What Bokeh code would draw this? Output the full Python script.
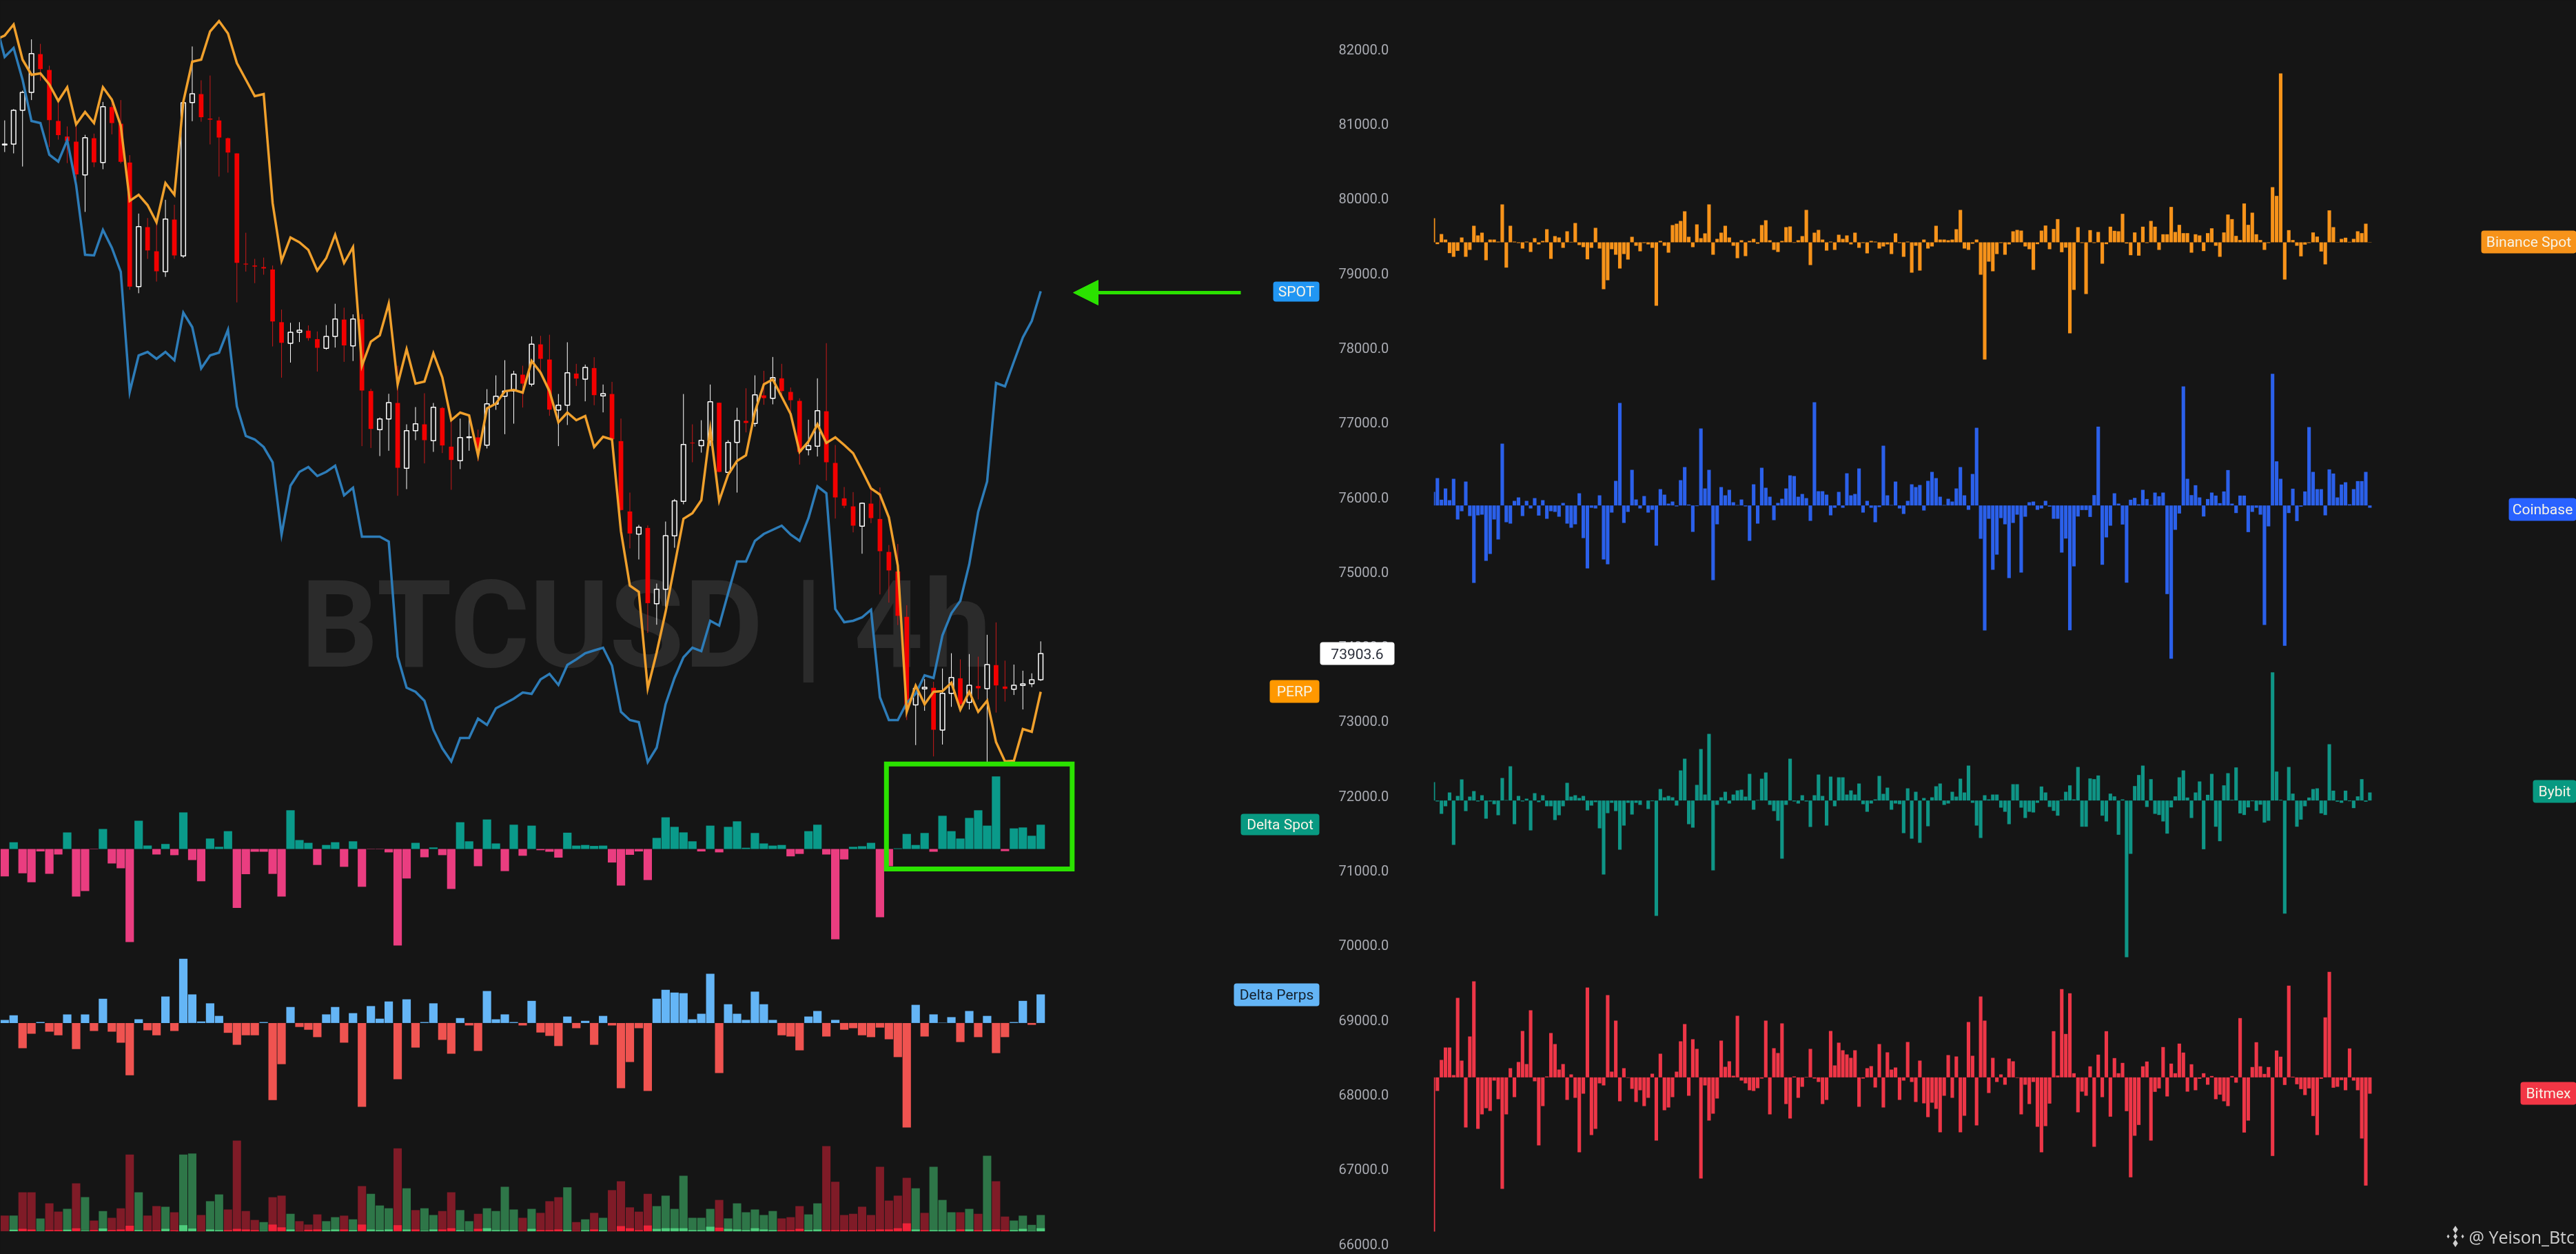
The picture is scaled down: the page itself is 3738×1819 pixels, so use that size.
import numpy as np
from bokeh.plotting import figure
from bokeh.models import Range1d, LinearAxis, FixedTicker, Label, Arrow, NormalHead, NumeralTickFormatter
from bokeh.core.properties import value
from bokeh.embed import file_html
from bokeh.resources import INLINE

# ---------- left pane: 4h candles ----------
candle_open = [80716,80727,81179,81420,81932,81720,81038,80829,80759,80314,80805,80480,81225,80999,80480,78819,79614,79292,79020,79716,79229,81285,81398,81070,81045,80805,80603,79126,79101,79080,79048,78342,78059,78207,78228,78115,77992,78151,78377,78024,
78381,77420,76903,77045,77260,76386,76888,76974,76755,77193,76675,76488,76796,76799,76694,77245,77350,77420,77639,77513,78045,77842,77165,77230,77654,77580,77728,77356,77380,76749,75807,75503,75586,74570,74764,75481,75943,76728,76688,76755,77263,76331,76731,77020,76986,77362,77322,77590,77408,77288,76635,76682,77149,76457,75983,75875,75610,75912,75706,75265,75003,74395,73215,73431,73445,72879,73371,73572,73250,73469,73434,73749,73462,73427,73477,73501,73554]
candle_close = [80727,81179,81420,81939,81731,81049,80847,80769,80321,80812,80483,81229,81010,80490,78819,79621,79303,79024,79723,79236,81282,81402,81087,81056,80815,80614,79137,79115,79087,79062,78352,78066,78207,78235,78129,77999,78151,78384,78031,78384,
77427,76912,77045,77266,76392,76888,76980,76762,77202,76691,76497,76796,76805,76620,77248,77350,77420,77645,77519,78048,77851,77171,77230,77664,77587,77737,77365,77386,76774,75826,75512,75595,74579,74764,75484,75949,76703,76719,76759,77276,76337,76731,77026,76993,77368,77325,77599,77420,77297,76605,76688,77156,76466,75995,75884,75617,75918,75718,75275,75017,74409,73155,73438,73452,72883,73371,73583,73226,73480,73438,73756,73477,73431,73480,73498,73554,73904]
candle_high = [81045,81197,81444,82130,82070,81777,81310,80964,80992,80851,80868,81292,81275,81317,80579,79797,79737,79677,79981,79914,81292,82035,81582,81646,81091,80815,80603,79540,79190,79207,79101,78511,78334,78342,78299,78218,78303,78589,78536,78447,
78451,77451,77066,77383,77759,76974,77205,77390,77260,77205,77113,77051,77082,76903,77445,77630,77833,77691,77759,78153,78159,78174,77380,78073,77784,77774,77873,77507,77543,77051,76060,75626,75620,74841,75672,75974,77380,76974,77029,77507,77266,76762,77196,77457,77630,77691,77876,77784,77467,77322,77036,77590,78061,76697,76134,76066,75928,76128,76128,75357,75371,74551,73438,73561,73526,73703,73908,73826,73897,73862,74155,74321,73809,73756,73674,73639,74067]
candle_low = [80621,80603,80427,81317,81575,80688,80787,80473,80151,79819,80419,80391,80858,80469,78776,78730,79190,78886,78949,79190,79204,81034,81027,80723,80292,80345,78607,79020,78865,78978,78017,77599,77801,78076,78094,77681,77974,78002,77811,77822,
76682,76657,76549,76620,76017,76106,76762,76451,76605,76589,76097,76374,76620,76478,76651,77168,76842,76983,77199,77482,77667,77088,76682,76965,77488,77282,77230,77134,76768,75820,75312,75164,74180,74290,74527,75321,75903,76466,76595,76682,76331,76328,76060,76866,76943,77236,77242,77359,77113,76435,76558,76543,76220,75712,75851,75527,75241,75650,74696,74586,74286,73014,72678,73137,72526,72685,73190,73155,73155,73289,72431,73113,73261,73349,73155,73455,73537]

# cumulative delta overlays (first value is the bar just before the visible window)
perp_cvd = [943,949,965,914,892,894,878,854,874,820,838,822,874,856,818,709,718,703,678,735,718,853,911,914,955,970,952,909,885,861,864,706,622,656,649,638,608,626,660,619,642,
470,505,514,560,443,494,444,447,488,453,391,402,398,340,408,415,433,435,431,477,460,433,388,402,391,397,352,367,363,230,151,142,2,54,113,180,248,256,275,378,274,312,332,340,403,443,450,425,400,345,360,385,358,366,355,343,318,292,283,250,180,-32,6,-21,-3,-2,10,-29,-3,-32,-16,-76,-104,-103,-57,-61,-3]
spot_cvd = [967,918,931,885,825,822,776,766,797,732,631,630,667,641,606,432,485,490,480,490,478,547,526,466,485,489,522,411,368,363,352,330,225,296,316,323,310,316,325,282,293,
222,222,222,215,48,3,-3,-16,-58,-85,-104,-70,-70,-42,-51,-27,-20,-13,-4,-6,15,23,7,36,44,53,57,61,35,-32,-44,-47,-105,-84,-21,17,47,61,56,100,93,140,186,186,216,226,232,238,225,216,249,295,285,117,98,100,105,116,-11,-44,-44,-19,-6,21,17,79,111,129,182,258,302,445,440,476,511,535,578]

# lower left panes
delta_spot = [-89,22,-79,-108,-8,-81,-18,54,-155,-137,-1,65,-47,-63,-303,92,11,-18,16,-20,119,-36,-105,34,7,58,-192,-82,-9,-9,-81,-155,126,29,20,-52,13,22,-58,25,-123,-1,-1,-11,-314,-96,20,-27,5,-20,-130,87,25,-56,96,18,-72,79,-22,76,-4,-9,
-28,53,11,13,10,11,-44,-119,-19,-8,-101,36,103,72,54,25,-8,76,-11,72,90,4,52,18,11,13,-24,-16,58,79,-18,-294,-34,7,9,20,-222,-56,2,49,13,52,-9,108,58,34,101,126,76,236,-7,67,70,43,79]
delta_perps = [10,25,-82,-35,3,-28,-40,28,-85,28,-26,79,-28,-64,-170,12,-24,-40,86,-26,209,93,5,64,23,-32,-71,-40,-40,3,-251,-134,52,-13,-22,-46,28,52,-64,32,-273,55,14,70,-183,77,-80,3,64,-55,-100,16,-8,-91,104,12,28,3,-8,72,-31,-42,
-75,21,-17,7,-71,23,-8,-212,-127,-17,-221,79,108,99,97,12,30,160,-163,61,30,10,102,61,10,-40,-44,-89,21,39,-44,10,-22,-17,-40,-46,-15,-53,-111,-340,59,-44,28,1,19,-62,39,-46,23,-98,-46,3,72,-6,93]
volume = [51,51,127,127,42,91,64,73,156,111,35,66,44,75,250,127,51,82,80,62,250,253,53,98,120,71,295,66,37,30,111,116,57,33,22,55,33,46,51,39,147,122,84,75,270,140,69,75,53,66,127,69,33,57,75,66,145,71,44,73,60,98,
111,143,30,39,60,44,134,163,78,64,122,82,116,73,181,44,44,73,102,42,91,62,71,53,66,42,46,82,55,91,277,161,53,57,80,53,210,100,116,174,140,60,210,102,62,62,73,57,246,163,48,35,51,21,53]
volume_core = [0,5,8,6,1,4,4,5,10,2,4,9,4,6,18,4,3,3,8,3,20,9,1,6,4,4,8,6,4,1,22,13,6,1,5,6,4,6,6,4,22,6,4,6,20,6,6,2,6,6,10,4,1,8,10,4,4,4,1,8,4,4,
6,4,1,4,6,4,1,17,10,4,19,8,10,10,10,4,4,15,12,8,6,4,10,6,4,4,4,8,4,6,4,4,4,4,4,4,6,6,10,26,6,4,4,4,4,6,6,4,4,6,4,4,8,1,10]
volume_side = list("RGRRGRRGRGRGRRRGRRGRGGRGGRRRRGRRGRRRGGRGRGGGRGRGGRRGGRGGGGRGRR"
                   "RGRGRGRRRRRGGGGGGGRGGGGGGRRRGGRRRRRRRRRRGRGGGRGRGRRGGGG")

# ---------- right pane: exchange deltas ----------
binance_spot = [105,-8,36,12,-47,-63,-37,21,-63,-33,72,30,42,-78,12,12,3,165,-110,72,3,-3,-27,3,-42,18,-9,6,57,-72,27,21,-24,48,2,84,-12,-21,-74,-24,63,-27,-204,-165,-30,-54,-114,-51,-75,24,-15,-39,-3,-9,-24,-276,6,-15,-45,75,81,93,135,24,-21,78,18,39,165,-54,15,42,72,21,-15,-69,9,-60,6,15,-6,75,96,9,-33,-42,6,66,69,-2,9,27,141,-99,42,54,12,-36,3,-33,33,15,30,-9,42,-24,-3,-48,6,3,-27,-18,-9,-51,39,-3,-63,3,-132,-15,-123,12,-27,-18,72,12,12,9,12,57,141,-27,-33,-6,12,-141,-510,-84,-126,-51,-3,-54,-9,48,54,51,-18,-30,-120,-8,
51,73,-30,58,101,-43,-23,-396,-207,66,-3,-225,53,-3,45,-93,-8,68,50,48,124,-5,-56,43,-58,68,-3,93,68,-33,35,35,154,45,76,40,40,-45,35,30,-38,40,61,-15,-63,43,121,101,28,10,169,76,129,35,10,-33,-3,240,202,735,-162,53,10,-15,-61,-10,-3,43,25,-40,-96,139,66,1,15,20,2,15,48,40,81,1]
coinbase = [59,119,25,74,23,116,-61,-25,104,-46,-337,-43,-40,-241,-211,-61,-148,269,-73,-79,20,35,-46,20,-13,32,-44,23,-58,-25,-28,-49,11,-79,-97,-82,53,-142,-274,-10,-13,44,-235,-256,-31,107,446,-76,-28,155,26,-13,41,-31,-19,-175,71,47,8,17,-4,110,167,4,-115,-3,335,74,155,-325,-82,80,44,68,14,2,26,-4,-154,92,-79,164,77,38,-64,11,29,74,131,128,38,50,32,-67,449,62,62,47,-43,-10,59,-10,140,44,50,161,-31,20,-10,-73,-7,260,44,2,104,-13,-37,20,92,80,89,-22,107,146,119,38,2,29,17,74,167,44,-19,137,338,-145,-544,-58,-280,-214,-55,-82,-316,-76,-40,-292,-49,14,17,-19,
-13,20,-5,-58,-58,-205,-144,-543,-265,-48,-20,-20,-50,45,343,-258,-139,-88,53,8,-83,-336,25,33,5,68,28,2,56,40,56,-386,-667,-106,-35,518,116,45,88,35,-48,28,56,43,10,61,154,8,-33,43,43,-116,-28,-10,-40,-520,-91,573,192,116,-611,-33,73,-68,-5,61,341,146,71,71,-43,157,139,35,91,101,5,71,106,106,146,-10]
bybit = [80,-4,-58,-25,35,-193,20,92,-46,17,41,-4,23,-79,-4,-16,-64,98,2,149,-103,20,-4,8,-130,32,-7,23,-25,-25,-85,-64,-25,77,17,23,11,20,-43,-22,-7,-121,-322,-55,-10,-46,-214,-109,-10,-61,-10,-19,0,-37,-3,-502,50,14,20,14,-22,131,182,-103,-118,68,224,26,290,-304,-19,14,38,-13,26,44,47,17,116,-40,2,95,122,-19,-46,-88,-253,-19,182,-4,-13,23,-4,-115,23,113,20,-109,104,-25,101,101,26,44,26,74,-16,-49,-13,5,107,29,56,-40,-13,-16,-142,53,-166,38,-184,11,-112,14,62,74,-19,-13,38,17,95,35,152,-10,-109,-163,23,5,26,26,-31,-49,-103,71,71,-31,-76,-49,-52,-10,
61,35,-28,-45,-66,3,38,66,5,146,-114,-114,96,93,109,-66,-91,30,18,-149,5,-682,-232,63,111,152,-28,93,-58,-63,-91,-144,-30,18,101,131,13,-76,35,83,-212,25,116,-114,-177,66,119,3,144,-56,-63,-30,-3,-45,-18,-96,-88,558,126,3,-492,146,30,-114,-83,-25,13,50,53,-56,-63,245,43,-5,-10,43,-3,-33,18,93,-5,35]
bitmex = [-671,-59,76,130,130,10,346,73,-218,178,418,-224,-161,-134,-146,-14,-95,-485,-161,40,-86,67,202,58,292,-17,-296,-125,4,193,145,34,58,-98,13,-89,-326,-71,391,-251,-224,-26,-35,358,25,247,-104,40,-2,-50,-107,-56,-125,-89,16,-275,103,-143,-131,-86,25,157,232,-80,166,124,-440,-35,-188,-158,-92,160,46,70,7,268,-14,-26,-56,-59,-47,-5,247,-161,127,106,235,-116,-179,4,-89,-41,2,124,-5,-20,-116,-98,202,52,151,118,100,85,118,-128,-5,40,49,-44,145,-131,109,34,43,-98,-14,154,-20,-107,73,-113,-173,-110,-137,-239,-80,97,-89,91,-239,-167,241,94,-209,352,247,-68,85,-20,13,-32,82,70,-2,-161,-32,-116,-20,-215,
-326,-212,-114,201,8,384,189,366,18,-152,-62,-80,48,-302,99,-86,201,-171,84,18,63,-147,-435,-254,-207,48,69,-275,-63,-48,132,-83,60,18,147,108,-62,57,-56,-6,18,-32,6,-95,-75,-104,-125,6,-23,258,-240,-188,45,153,48,15,45,-342,117,90,-33,399,3,-30,-51,-77,-48,-168,-251,-6,261,459,-45,-41,-12,-56,126,-14,-56,-266,-471,-71]

price_ticks = [66000,67000,68000,69000,70000,71000,72000,73000,74000,75000,76000,77000,78000,79000,80000,81000,82000]
last_price = 73903.6

for name, arr, want in [("open",candle_open,117),("close",candle_close,117),("high",candle_high,117),("low",candle_low,117),
                        ("perp",perp_cvd,118),("spot",spot_cvd,118),("dspot",delta_spot,117),("dperp",delta_perps,117),
                        ("vol",volume,117),("core",volume_core,117),("side",volume_side,117),
                        ("bin",binance_spot,232),("coin",coinbase,232),("byb",bybit,232),("mex",bitmex,232)]:
    assert len(arr)==want, f"{name} {len(arr)}"

W, H = 3738, 1819
BG = "#151515"
FONT = "Roboto"

# scale calibration (canvas pixels <-> data)
LEFT_X0, LEFT_STEP = 6.3, 12.96
RIGHT_X0, RIGHT_STEP = 2079.4, 5.883
PX_PER_1000 = 108.3
Y_82000 = 70.7

def pane(baseline_px, units_per_px):
    return Range1d(start=-(H-baseline_px)*units_per_px, end=baseline_px*units_per_px)

price_range = Range1d(start=82000-(H-Y_82000)/PX_PER_1000*1000, end=82000+Y_82000/PX_PER_1000*1000)
left_x = Range1d(start=-LEFT_X0/LEFT_STEP, end=(W-LEFT_X0)/LEFT_STEP)
right_x = Range1d(start=-RIGHT_X0/RIGHT_STEP, end=(W-RIGHT_X0)/RIGHT_STEP)

def dx(px): return (px-LEFT_X0)/LEFT_STEP
def dy(py): return 82000-(py-Y_82000)/PX_PER_1000*1000

p = figure(width=W, height=H, output_backend="svg", toolbar_location=None, x_range=left_x, y_range=price_range,
           min_border=0, background_fill_color=BG, border_fill_color=BG, outline_line_color=None,
           x_axis_type=None, y_axis_type=None, styles={"position":"fixed","left":"0px","top":"0px"})
p.grid.visible = False
p.extra_x_ranges = {"right": right_x}
p.extra_y_ranges = {
    "cvd": Range1d(start=-819, end=1000),
    "dspot": pane(1231.0, 2.243), "dperp": pane(1483.4, 2.243), "vol": pane(1785.6, 2.243),
    "bin": pane(351.0, 3), "coin": pane(732.7, 3), "byb": pane(1160.7, 3), "mex": pane(1562.3, 3),
}

# watermark
p.text(x=[dx(436)], y=[dy(906)], text=["BTCUSD | 4h"], text_font=value("Roboto"), text_font_style="bold",
       text_font_size="176px", text_color="#2b2b2b", text_baseline="alphabetic", text_align="left")

idx = np.arange(117)
def signed_bars(vals, rng, up, down, w=0.94):
    v = np.array(vals, float)
    for mask, col in ((v >= 0, up), (v < 0, down)):
        p.vbar(x=idx[mask], top=v[mask], bottom=0, width=w, fill_color=col, line_color=None, y_range_name=rng)

signed_bars(delta_spot, "dspot", "#0a9a8a", "#ea3d80")
signed_bars(delta_perps, "dperp", "#64b5f6", "#ef5350")

vol = np.array(volume, float); core = np.array(volume_core, float); side = np.array(volume_side)
for s, dark, bright in (("G", "#2e7648", "#4ecb7c"), ("R", "#7f1b27", "#ef2238")):
    m = side == s
    p.vbar(x=idx[m], top=vol[m], bottom=0, width=0.93, fill_color=dark, line_color=None, y_range_name="vol")
    p.vbar(x=idx[m], top=core[m], bottom=0, width=0.93, fill_color=bright, line_color=None, y_range_name="vol")

# candles
o, h, l, c = map(lambda a: np.array(a, float), (candle_open, candle_high, candle_low, candle_close))
up = c >= o
p.segment(idx[~up], h[~up], idx[~up], l[~up], line_color="#c81a1a", line_width=1)
p.vbar(idx[~up], top=o[~up], bottom=c[~up], width=0.52, fill_color="#f20000", line_color=None)
p.segment(idx[up], h[up], idx[up], l[up], line_color="#ffffff", line_width=1)
p.vbar(idx[up], top=c[up], bottom=o[up], width=0.51, fill_color=BG, line_color="#ffffff", line_width=1.5)

# cumulative delta lines
line_x = np.arange(-1, 117)
p.line(line_x, spot_cvd, y_range_name="cvd", line_color="#2d7cb8", line_width=3.5, line_join="miter")
p.line(line_x, perp_cvd, y_range_name="cvd", line_color="#f0a02c", line_width=3.5, line_join="miter")

# exchange deltas
for vals, rng, col in ((binance_spot, "bin", "#f7931a"), (coinbase, "coin", "#2b60ea"),
                       (bybit, "byb", "#0f9586"), (bitmex, "mex", "#ee3647")):
    xs = np.arange(232, dtype=float); ws = np.full(232, 0.87)
    xs[0] += 0.29; ws[0] = 0.29
    p.vbar(x=xs, width=ws, top=vals, bottom=0, fill_color=col, line_color=None, x_range_name="right", y_range_name=rng)

# price axis
ax = LinearAxis(ticker=FixedTicker(ticks=price_ticks), formatter=NumeralTickFormatter(format="0.0"),
                axis_line_color=None, major_tick_line_color=None, minor_tick_line_color=None,
                major_label_text_color="#a9abb2", major_label_text_font=FONT, major_label_text_font_size="20px",
                major_label_standoff=6, fixed_location=dx(1930))
p.add_layout(ax, "right")

# highlight box and arrow
p.quad(left=[dx(1285.8)], right=[dx(1555.3)], top=[dy(1107.8)], bottom=[dy(1260)], fill_color=None,
       line_color="#2be200", line_width=7, line_join="miter")
p.add_layout(Arrow(end=NormalHead(size=36, fill_color="#2be200", line_color="#2be200"),
                   x_start=dx(1800), y_start=dy(424), x_end=dx(1557), y_end=dy(424),
                   line_color="#2be200", line_width=5))

def tag(text, x0, x1, y0, y1, bg, fg="#f7f3e6"):
    p.quad(left=[dx(x0)], right=[dx(x1)], top=[dy(y0)], bottom=[dy(y1)], fill_color=bg, line_color=None,
           border_radius=4, level="annotation")
    p.add_layout(Label(x=dx((x0+x1)/2), y=dy((y0+y1)/2), text=text, text_align="center", text_baseline="middle",
                       text_font=FONT, text_font_size="21px", text_color=fg))

tag("SPOT", 1847, 1914, 408, 437, "#2196f3")
tag("PERP", 1842, 1914, 986, 1019, "#ff9800")
tag("Delta Spot", 1800, 1914, 1180, 1211, "#089981")
tag("Delta Perps", 1790, 1914, 1426, 1459, "#64b5f6", "#14202c")
tag(f"{last_price:.1f}", 1915, 2023, 931, 964, "#ffffff", "#2a2e39")
tag("Binance Spot", 3600, 3738, 334, 367, "#f7931a")
tag("Coinbase", 3640, 3738, 722, 755, "#2962ff")
tag("Bybit", 3675, 3738, 1131, 1164, "#089981")
tag("Bitmex", 3657, 3738, 1569, 1602, "#f23645")

# signature
p.text(x=[dx(3582)], y=[dy(1793)], text=["@ Yeison_Btc"], text_font=value("Open Sans"), text_font_size="25px",
       text_color="#cfcfcf", text_baseline="middle", text_align="left")
gx = [3562.5, 3552, 3573, 3562.5, 3562.5]
gy = [1793, 1793, 1793, 1783, 1803]
gs = [9, 6, 6, 11, 11]
p.scatter(x=[dx(v) for v in gx], y=[dy(v) for v in gy], size=gs, marker="diamond", fill_color="#cfcfcf", line_color=None)

html = file_html(p, INLINE).replace("<head>", "<head><style>html,body{background:#151515}</style>", 1)
open("out.html", "w").write(html)
